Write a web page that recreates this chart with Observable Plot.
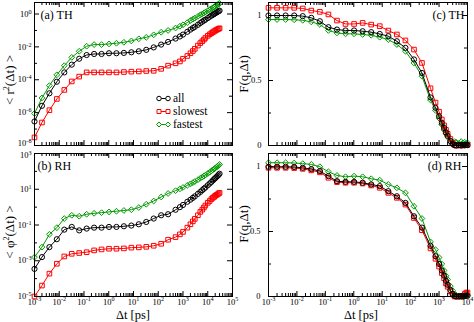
<!DOCTYPE html>
<html><head><meta charset="utf-8">
<script src="https://cdn.jsdelivr.net/npm/d3@7"></script>
<script src="https://cdn.jsdelivr.net/npm/@observablehq/plot@0.6"></script>
<style>
body{margin:0;background:#fff;}
#chart{position:relative;width:474px;height:322px;overflow:hidden;font-family:"Liberation Serif","Times New Roman",serif;color:#000;}
#chart svg{position:absolute;}
.lbl{position:absolute;white-space:nowrap;font-size:13px;line-height:13px;}
.xl{font-size:12.5px;line-height:12px;}
.rot{transform:translate(-50%,-50%) rotate(-90deg);}
.hc{transform:translate(-50%,-50%);}
.leg{position:absolute;left:156px;font-size:11.5px;line-height:11px;height:11px;white-space:nowrap;display:flex;align-items:center;}
.leg svg{position:static !important;margin-right:2px;}
</style></head><body><div id="chart"></div>
<script>
// ---- time axis (ps) ----
const tLog = [0.001,0.002,0.004,0.008,0.016,0.032,0.064,0.128,0.256,0.512,1.024,2.048,4.096,8.192,16.384,32.768,65.536,131.072];
const tDenseMsd = [250,500,750,1000,1500,2000,2500,3000,4000,5000,6000,7000,8000,10000,12000,14000,16000,18000,20000,22500,25000,27500,30000];
const tDenseF = [250,500,750,1000,1250,1500,1750,2000,2500,3000,3500,4000,5000,6000,7000,8000,9000,10000];

// ---- (a) TH : <r^2(dt)> ----
const msdAll = [2.9e-7,2.6e-6,1.5e-5,7.6e-5,2.8e-4,8.3e-4,1.9e-3,3.2e-3,3.7e-3,3.7e-3,4.1e-3,4.1e-3,4.3e-3,4.7e-3,5.4e-3,6.6e-3,9.3e-3,0.0138,
  0.02,0.032,0.043,0.056,0.083,0.112,0.14,0.166,0.22,0.28,0.34,0.4,0.45,0.56,0.68,0.79,0.89,1.0,1.1,1.23,1.35,1.48,1.6];
const msdSlow = [3.1e-8,2.5e-7,1.4e-6,6.8e-6,2.4e-5,7.9e-5,1.55e-4,2.8e-4,2.8e-4,2.8e-4,2.8e-4,2.8e-4,2.95e-4,3.1e-4,3.2e-4,3.4e-4,3.5e-4,4.6e-4,
  7.2e-4,1.0e-3,1.3e-3,1.9e-3,2.8e-3,4.1e-3,5.6e-3,7.6e-3,0.012,0.017,0.022,0.028,0.035,0.047,0.058,0.068,0.078,0.087,0.098,0.107,0.117,0.126,0.135];
const msdFast = [8.9e-7,7.8e-6,4.4e-5,2.0e-4,7.2e-4,2.3e-3,5.4e-3,0.011,0.0138,0.0138,0.0151,0.0166,0.019,0.023,0.031,0.038,0.054,0.078,
  0.1,0.14,0.18,0.22,0.3,0.4,0.48,0.56,0.71,0.87,1.0,1.15,1.3,1.6,1.85,2.1,2.4,2.7,2.95,3.3,3.6,4.0,4.4];

// ---- (b) RH : <phi^2(dt)> ----
const rotAll = [3.5e-4,1.6e-3,5.8e-3,0.016,0.055,0.078,0.05,0.063,0.071,0.071,0.078,0.078,0.085,0.093,0.11,0.148,0.23,0.35,
  0.4,0.71,1.0,1.32,2.0,2.6,3.3,4.0,5.5,7.1,8.9,10.7,12.6,16.6,20.9,25.7,30.9,36.3,41.7,49,56,65,74];
const rotSlow = [1.0e-5,4.1e-5,1.9e-4,6.8e-4,1.74e-3,2.45e-3,2.7e-3,3.0e-3,3.8e-3,4.3e-3,4.7e-3,4.7e-3,4.9e-3,5.4e-3,5.6e-3,6.0e-3,6.9e-3,8.9e-3,
  0.015,0.021,0.03,0.041,0.071,0.11,0.16,0.22,0.35,0.54,0.72,0.95,1.23,1.74,2.2,2.8,3.3,3.7,4.3,4.8,5.2,5.8,6.3];
const rotFast = [1.6e-3,5.8e-3,0.03,0.071,0.23,0.35,0.31,0.4,0.45,0.49,0.54,0.59,0.65,0.72,0.95,1.45,2.2,3.7,
  5.8,8.3,10.5,12.6,16.6,20,23.4,27,34,41,48,55,62,76,89,105,120,135,151,174,195,219,245];

// ---- (c) TH : F(q,dt) ----
const fThAll = [1.0,1.0,1.0,1.0,0.995,0.982,0.956,0.91,0.892,0.885,0.885,0.879,0.872,0.858,0.841,0.802,0.751,0.662,
  0.558,0.37,0.29,0.225,0.175,0.135,0.1,0.075,0.035,0.012,0.003,0.0,0.003,0.0,0.004,0.002,0.005,0.003];
const fThSlow = [1.059,1.059,1.059,1.059,1.054,1.038,1.028,1.008,0.961,0.935,0.935,0.943,0.93,0.918,0.884,0.854,0.808,0.738,
  0.635,0.44,0.33,0.26,0.2,0.155,0.12,0.09,0.05,0.02,0.004,0.0,0.0,0.002,0.0,0.003,0.005,0.005];
const fThFast = [0.969,0.969,0.969,0.967,0.963,0.951,0.931,0.885,0.866,0.859,0.859,0.854,0.848,0.833,0.815,0.777,0.725,0.635,
  0.533,0.35,0.27,0.21,0.16,0.12,0.09,0.065,0.03,0.01,0.03,0.025,0.015,0.03,0.02,0.025,0.015,0.02];

// ---- (d) RH : F(q,dt) ----
const fRhAll = [0.998,0.998,0.998,0.996,0.99,0.98,0.965,0.926,0.887,0.882,0.882,0.875,0.862,0.849,0.81,0.771,0.72,0.617,
  0.53,0.39,0.31,0.25,0.2,0.16,0.12,0.09,0.05,0.02,0.005,0.0,0.0,0.003,0.0,0.005,0.005,0.005];
const fRhSlow = [0.99,0.99,0.99,0.988,0.982,0.97,0.955,0.913,0.88,0.875,0.875,0.869,0.854,0.836,0.797,0.759,0.707,0.604,
  0.51,0.37,0.29,0.23,0.18,0.14,0.1,0.075,0.04,0.015,0.0,0.0,0.0,0.0,0.005,0.02,0.03,0.03];
const fRhFast = [1.029,1.029,1.029,1.027,1.022,1.016,0.998,0.96,0.931,0.921,0.926,0.921,0.906,0.895,0.862,0.836,0.797,0.694,
  0.6,0.42,0.36,0.3,0.25,0.2,0.16,0.13,0.08,0.045,0.02,0.01,0.005,0.0,0.005,0.01,0.01,0.01];

// ---- tick labels ----
const seriesNames = ["all","slowest","fastest"];
const xDecadesAB = [1e-3,1e-2,1e-1,1,10,100,1e3,1e4,1e5];
const xDecadesCD = [1e-3,1e-2,1e-1,1,10,100,1e3,1e4];
const yTicksA = [1e-8,1e-6,1e-4,1e-2,1];
const yMinorA = [1e-7,1e-5,1e-3,1e-1];
const yTicksB = [1e-5,1e-3,1e-1,10,1e3];
const yMinorB = [1e-4,1e-2,1,100];
const yTicksCD = [0,0.5,1];
const yMinorCD = [0.25,0.75];

const COLORS = {all:"#000000", slowest:"#ff0000", fastest:"#009a00"};
const SYMS = {all:"circle", slowest:"square", fastest:"diamond2"};
const chart = document.getElementById("chart");

function minorLog(decades){
  const out=[];
  for(let i=0;i<decades.length-1;i++) for(let m=2;m<=9;m++) out.push(decades[i]*m);
  return out;
}
const expFmt = d => "10^" + Math.round(Math.log10(d));

function dataMarks(t, vals){
  const marks=[];
  for(const name of ["fastest","slowest","all"]){
    const data = t.map((x,i)=>({x, y: vals[name][i], s:name}));
    marks.push(Plot.line(data,{x:"x",y:"y",stroke:COLORS[name],strokeWidth:1}));
    marks.push(Plot.dot(data,{x:"x",y:"y",symbol:SYMS[name],r:2.6,stroke:COLORS[name],fill:"none",strokeWidth:1}));
  }
  return marks;
}

function tickMarks(fw, fh, xMaj, xMin, yMaj, yMin){
  const L=5, l=3;
  return [
    Plot.tickX(xMaj,{x:d=>d,insetTop:fh-L,stroke:"#000"}),
    Plot.tickX(xMaj,{x:d=>d,insetBottom:fh-L,stroke:"#000"}),
    Plot.tickX(xMin,{x:d=>d,insetTop:fh-l,stroke:"#000"}),
    Plot.tickX(xMin,{x:d=>d,insetBottom:fh-l,stroke:"#000"}),
    Plot.tickY(yMaj,{y:d=>d,insetRight:fw-L,stroke:"#000"}),
    Plot.tickY(yMaj,{y:d=>d,insetLeft:fw-L,stroke:"#000"}),
    Plot.tickY(yMin,{y:d=>d,insetRight:fw-l,stroke:"#000"}),
    Plot.tickY(yMin,{y:d=>d,insetLeft:fw-l,stroke:"#000"})
  ];
}

function panel(o){
  const fw = o.width-o.ml-o.mr, fh = o.height-o.mt-o.mb;
  const marks = [
    ...dataMarks(o.t, o.vals),
    ...tickMarks(fw, fh, o.xMaj, o.xMin, o.yMaj, o.yMin),
    Plot.axisY({ticks:o.yMaj, tickSize:0, tickPadding:o.yPad, tickFormat:o.yFmt, label:null}),
    Plot.frame({stroke:"#000"}),
    Plot.text([o.tag],{frameAnchor:o.tagAnchor, dx:o.tagDx, dy:13, textAnchor:o.tagAnchor==="top-left"?"start":"end", lineAnchor:"middle", fontSize:12})
  ];
  if(o.xLabels) marks.push(Plot.axisX({ticks:o.xMaj, tickSize:0, tickPadding:2, tickFormat:expFmt, label:null}));
  const svg = Plot.plot({
    width:o.width, height:o.height,
    marginLeft:o.ml, marginRight:o.mr, marginTop:o.mt, marginBottom:o.mb,
    x:{type:"log", domain:o.xDomain, axis:o.xLabels?undefined:null, label:null},
    y:{type:o.yType, domain:o.yDomain, label:null},
    style:{fontFamily:"'Liberation Serif','Times New Roman',serif", fontSize:"8.5px", background:"none", color:"#000", overflow:"visible"},
    marks
  });
  svg.querySelectorAll("text").forEach(t=>{
    const m = t.textContent.match(/^10\^(-?\d+)$/);
    if(m){
      t.textContent = "10";
      const ts = document.createElementNS("http://www.w3.org/2000/svg","tspan");
      ts.setAttribute("dy","-0.5em");
      ts.setAttribute("font-size","6.2");
      ts.textContent = m[1];
      t.appendChild(ts);
      const shift = o.nudge && o.nudge[m[1]];
      if(shift && t.closest('[aria-label="y-axis tick label"]')){
        t.setAttribute("transform", (t.getAttribute("transform")||"") + ` translate(0,${shift})`);
      }
    }
  });
  svg.style.left = o.left+"px";
  svg.style.top = o.top+"px";
  chart.appendChild(svg);
}

const tAB = tLog.concat(tDenseMsd);
const tCD = tLog.concat(tDenseF);

panel({left:0, top:0, width:237, height:150, ml:34, mr:5, mt:2, mb:5,
  t:tAB, vals:{all:msdAll, slowest:msdSlow, fastest:msdFast},
  xDomain:[1e-3,1e5], yType:"log", yDomain:[1e-8,5.01],
  xMaj:xDecadesAB, xMin:minorLog(xDecadesAB), yMaj:yTicksA, yMin:yMinorA, yFmt:expFmt, yPad:3, nudge:{"-8":-2},
  xLabels:false, tag:"(a) TH", tagAnchor:"top-left", tagDx:6});
panel({left:0, top:150, width:237, height:172, ml:34, mr:5, mt:3, mb:26,
  t:tAB, vals:{all:rotAll, slowest:rotSlow, fastest:rotFast},
  xDomain:[1e-3,1e5], yType:"log", yDomain:[1e-5,1e3],
  xMaj:xDecadesAB, xMin:minorLog(xDecadesAB), yMaj:yTicksB, yMin:yMinorB, yFmt:expFmt, yPad:3, nudge:{"3":2},
  xLabels:true, tag:"(b) RH", tagAnchor:"top-left", tagDx:3});
panel({left:236, top:0, width:238, height:150, ml:32, mr:7, mt:2, mb:5,
  t:tCD, vals:{all:fThAll, slowest:fThSlow, fastest:fThFast},
  xDomain:[1e-3,1e4], yType:"linear", yDomain:[0,1.1],
  xMaj:xDecadesCD, xMin:minorLog(xDecadesCD), yMaj:yTicksCD, yMin:yMinorCD, yFmt:d=>String(d), yPad:7,
  xLabels:false, tag:"(c) TH", tagAnchor:"top-right", tagDx:-3});
panel({left:236, top:150, width:238, height:172, ml:32, mr:7, mt:3, mb:26,
  t:tCD, vals:{all:fRhAll, slowest:fRhSlow, fastest:fRhFast},
  xDomain:[1e-3,1e4], yType:"linear", yDomain:[0,1.1],
  xMaj:xDecadesCD, xMin:minorLog(xDecadesCD), yMaj:yTicksCD, yMin:yMinorCD, yFmt:d=>String(d), yPad:8,
  xLabels:true, tag:"(d) RH", tagAnchor:"top-right", tagDx:-6});

// ---- axis titles ----
function label(html, x, y, cls){
  const d = document.createElement("div");
  d.className = "lbl " + cls;
  d.style.left = x+"px"; d.style.top = y+"px";
  d.innerHTML = html;
  chart.appendChild(d);
}
const supStyle = 'font-size:8px;position:relative;top:-5px;';
label('&lt; r<span style="'+supStyle+'">2</span>(Δt) &gt;', 10, 80, "rot");
label('&lt; φ<span style="'+supStyle+'">2</span>(Δt) &gt;', 10, 232, "rot");
label('F(q,Δt)', 243, 74, "rot");
label('F(q,Δt)', 243, 224, "rot");
label('Δt [ps]', 133, 315, "hc xl");
label('Δt [ps]', 361, 315, "hc xl");

// ---- legend ----
const legendTop = {all:93, slowest:106, fastest:119};
for(const name of seriesNames){
  const row = document.createElement("div");
  row.className = "leg";
  row.style.top = legendTop[name]+"px";
  const s = d3.create("svg").attr("width",15).attr("height",11);
  s.append("line").attr("x1",3).attr("x2",12).attr("y1",5.5).attr("y2",5.5).attr("stroke",COLORS[name]);
  for(const cx of [3,12]){
    s.append("path").attr("d", d3.symbol(name==="all"?d3.symbolCircle:name==="slowest"?d3.symbolSquare:d3.symbolDiamond2, 16)())
      .attr("transform",`translate(${cx},5.5)`).attr("fill","#fff").attr("stroke",COLORS[name]);
  }
  row.appendChild(s.node());
  const tx = document.createElement("span");
  tx.textContent = name;
  row.appendChild(tx);
  chart.appendChild(row);
}
</script></body></html>
